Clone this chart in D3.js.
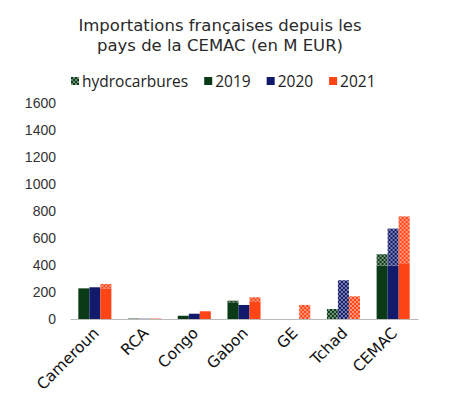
<!DOCTYPE html>
<html>
<head>
<meta charset="utf-8">
<script src="https://cdn.jsdelivr.net/npm/d3@7"></script>
<style>
  body { margin: 0; background: #fff; }
  svg { display: block; }
</style>
</head>
<body>
<div id="chart"></div>
<script>
// Data (M EUR)
const categories = ['Cameroun', 'RCA', 'Congo', 'Gabon', 'GE', 'Tchad', 'CEMAC']
const years = ['2019', '2020', '2021']
const total2019 = [227, 3, 24, 136, 0, 74, 480]
const total2020 = [235, 2, 39, 104, 0, 287, 670]
const total2021 = [259, 3, 57, 161, 104, 168, 760]
// hydrocarbures share of each total (hatched part, on top)
const hydro2019 = [0, 0, 0, 12, 0, 74, 85]
const hydro2020 = [0, 0, 0, 0, 0, 287, 275]
const hydro2021 = [32, 0, 0, 35, 104, 168, 347]
const yTicks = [0, 200, 400, 600, 800, 1000, 1200, 1400, 1600]

/*----------------------------------------------------------------------------*/

const width = 450
const height = 404
const colors = { '2019': '#0b3b16', '2020': '#121a6c', '2021': '#ff4415' }

const totals = { '2019': total2019, '2020': total2020, '2021': total2021 }
const hydros = { '2019': hydro2019, '2020': hydro2020, '2021': hydro2021 }

const rows = []
categories.forEach((c, i) => {
  years.forEach(yr => {
    rows.push({ cat: c, year: yr, total: totals[yr][i], hydro: hydros[yr][i] })
  })
})

const svg = d3.select('#chart').append('svg')
  .attr('width', width)
  .attr('height', height)

// hatched patterns
const defs = svg.append('defs')
years.forEach(yr => {
  const p = defs.append('pattern')
    .attr('id', 'hatch' + yr)
    .attr('patternUnits', 'userSpaceOnUse')
    .attr('width', 4)
    .attr('height', 4)
  p.append('rect').attr('width', 4).attr('height', 4).attr('fill', colors[yr])
  ;[[0, 0], [4, 0], [0, 4], [4, 4], [2, 2]].forEach(([cx, cy]) => {
    p.append('circle').attr('cx', cx).attr('cy', cy).attr('r', 0.8).attr('fill', '#fff')
  })
})

// title
const titleLines = ['Importations françaises depuis les', 'pays de la CEMAC (en M EUR)']
svg.append('g').selectAll('text')
  .data(titleLines)
  .enter()
  .append('text')
  .attr('x', 220)
  .attr('y', (d, i) => 31 + i * 20)
  .attr('text-anchor', 'middle')
  .attr('font-family', 'DejaVu Sans, sans-serif')
  .attr('font-size', 16.5)
  .attr('fill', '#2a2a2a')
  .text(d => d)

// scales
const x0 = d3.scaleBand()
  .domain(categories)
  .range([70, 418])
  .paddingInner(0.335)
  .paddingOuter(0.1675)

const x1 = d3.scaleBand()
  .domain(years)
  .range([0, x0.bandwidth()])

const y = d3.scaleLinear()
  .domain([0, 1600])
  .range([319, 103])

// y axis (labels only)
const yAxis = svg.append('g')
  .attr('transform', 'translate(56,0)')
  .call(d3.axisLeft(y).tickValues(yTicks).tickFormat(d3.format('d')).tickSize(0).tickPadding(0))
yAxis.select('.domain').remove()
yAxis.selectAll('text')
  .attr('font-family', 'Liberation Sans, Arial, sans-serif')
  .attr('font-size', 14)
  .attr('fill', '#333')

// bars
const g = svg.append('g')
const bar = g.selectAll('.bar')
  .data(rows)
  .enter()
  .append('g')
  .attr('class', 'bar')
  .attr('transform', d => `translate(${x0(d.cat) + x1(d.year)},0)`)

bar.append('rect')
  .attr('y', d => y(d.total - d.hydro))
  .attr('width', x1.bandwidth())
  .attr('height', d => y(0) - y(d.total - d.hydro))
  .attr('fill', d => colors[d.year])

bar.filter(d => d.hydro > 0).append('rect')
  .attr('y', d => y(d.total))
  .attr('width', x1.bandwidth())
  .attr('height', d => y(d.total - d.hydro) - y(d.total))
  .attr('fill', d => `url(#hatch${d.year})`)

// x axis
const xAxis = svg.append('g')
  .attr('transform', `translate(0,${y(0)})`)
  .call(d3.axisBottom(x0).tickSize(0).tickPadding(0))
xAxis.select('.domain')
  .attr('stroke', '#bbb')
  .attr('stroke-width', 1.2)
xAxis.selectAll('text')
  .attr('font-family', 'DejaVu Sans, sans-serif')
  .attr('font-size', 15.5)
  .attr('fill', '#111')
  .attr('text-anchor', 'end')
  .attr('dy', null)
  .attr('transform', 'translate(5,15) rotate(-45)')

// legend
const legendItems = [
  { label: 'hydrocarbures', fill: 'url(#hatch2019)' },
  { label: '2019', fill: colors['2019'] },
  { label: '2020', fill: colors['2020'] },
  { label: '2021', fill: colors['2021'] },
]
const legend = svg.append('g')
let lx = 71
legendItems.forEach(item => {
  legend.append('rect')
    .attr('x', lx)
    .attr('y', 77)
    .attr('width', 8)
    .attr('height', 8)
    .attr('fill', item.fill)
  const t = legend.append('text')
    .attr('x', lx + 11)
    .attr('y', 86.5)
    .attr('font-family', 'Open Sans, sans-serif')
    .attr('font-size', 15.5)
    .attr('fill', '#222')
    .text(item.label)
  lx += 11 + t.node().getComputedTextLength() + 16
})
</script>
</body>
</html>
